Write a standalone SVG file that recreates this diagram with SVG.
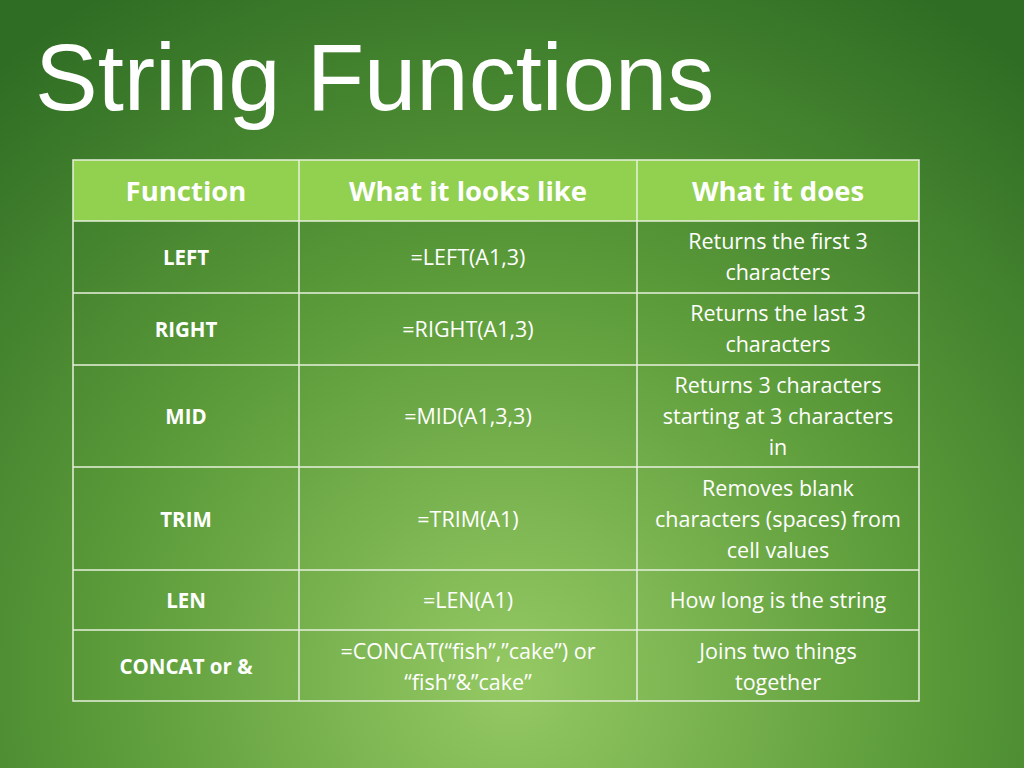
<svg xmlns="http://www.w3.org/2000/svg" width="1024" height="768" viewBox="0 0 1024 768">
<defs>
<radialGradient id="bg" cx="512" cy="680" r="800" gradientUnits="userSpaceOnUse">
<stop offset="0" stop-color="#95c964"/>
<stop offset="0.5" stop-color="#5c9c3a"/>
<stop offset="1" stop-color="#2f6d24"/>
</radialGradient>
<style>
.t{font-family:"Open Sans","Liberation Sans",sans-serif;fill:#fff;text-anchor:middle}
.b{font-size:21.5px}
.fb{font-size:20.5px;font-weight:bold}
.h{font-size:27.5px;font-weight:bold}
.l{stroke:#e6f0dc;stroke-width:1.5;fill:none}
</style>
</defs>
<rect width="1024" height="768" fill="url(#bg)"/>
<text x="35" y="110" font-family="Liberation Sans,Arial,sans-serif" font-size="94" fill="#fff">String Functions</text>
<g id="table">
<rect x="73" y="160" width="846" height="61" fill="#92d050"/>
<rect class="l" x="73" y="160" width="846" height="541"/>
<path class="l" d="M299 160V701M637 160V701M73 221H919M73 293H919M73 365H919M73 467H919M73 570H919M73 630H919"/>
<text class="t h" x="186" y="201">Function</text>
<text class="t h" x="468" y="201">What it looks like</text>
<text class="t h" x="778" y="201">What it does</text>
<text class="t fb" x="186" y="265">LEFT</text>
<text class="t b" x="468" y="265">=LEFT(A1,3)</text>
<text class="t b" x="778" y="249">Returns the first 3</text>
<text class="t b" x="778" y="280">characters</text>
<text class="t fb" x="186" y="337">RIGHT</text>
<text class="t b" x="468" y="337">=RIGHT(A1,3)</text>
<text class="t b" x="778" y="321">Returns the last 3</text>
<text class="t b" x="778" y="352">characters</text>
<text class="t fb" x="186" y="424">MID</text>
<text class="t b" x="468" y="424">=MID(A1,3,3)</text>
<text class="t b" x="778" y="393">Returns 3 characters</text>
<text class="t b" x="778" y="424">starting at 3 characters</text>
<text class="t b" x="778" y="455">in</text>
<text class="t fb" x="186" y="527">TRIM</text>
<text class="t b" x="468" y="527">=TRIM(A1)</text>
<text class="t b" x="778" y="496">Removes blank</text>
<text class="t b" x="778" y="527">characters (spaces) from</text>
<text class="t b" x="778" y="558">cell values</text>
<text class="t fb" x="186" y="608">LEN</text>
<text class="t b" x="468" y="608">=LEN(A1)</text>
<text class="t b" x="778" y="608">How long is the string</text>
<text class="t fb" x="186" y="674">CONCAT or &amp;</text>
<text class="t b" x="468" y="659">=CONCAT(“fish”,”cake”) or</text>
<text class="t b" x="468" y="690">“fish”&amp;”cake”</text>
<text class="t b" x="778" y="659">Joins two things</text>
<text class="t b" x="778" y="690">together</text>
</g>
</svg>
